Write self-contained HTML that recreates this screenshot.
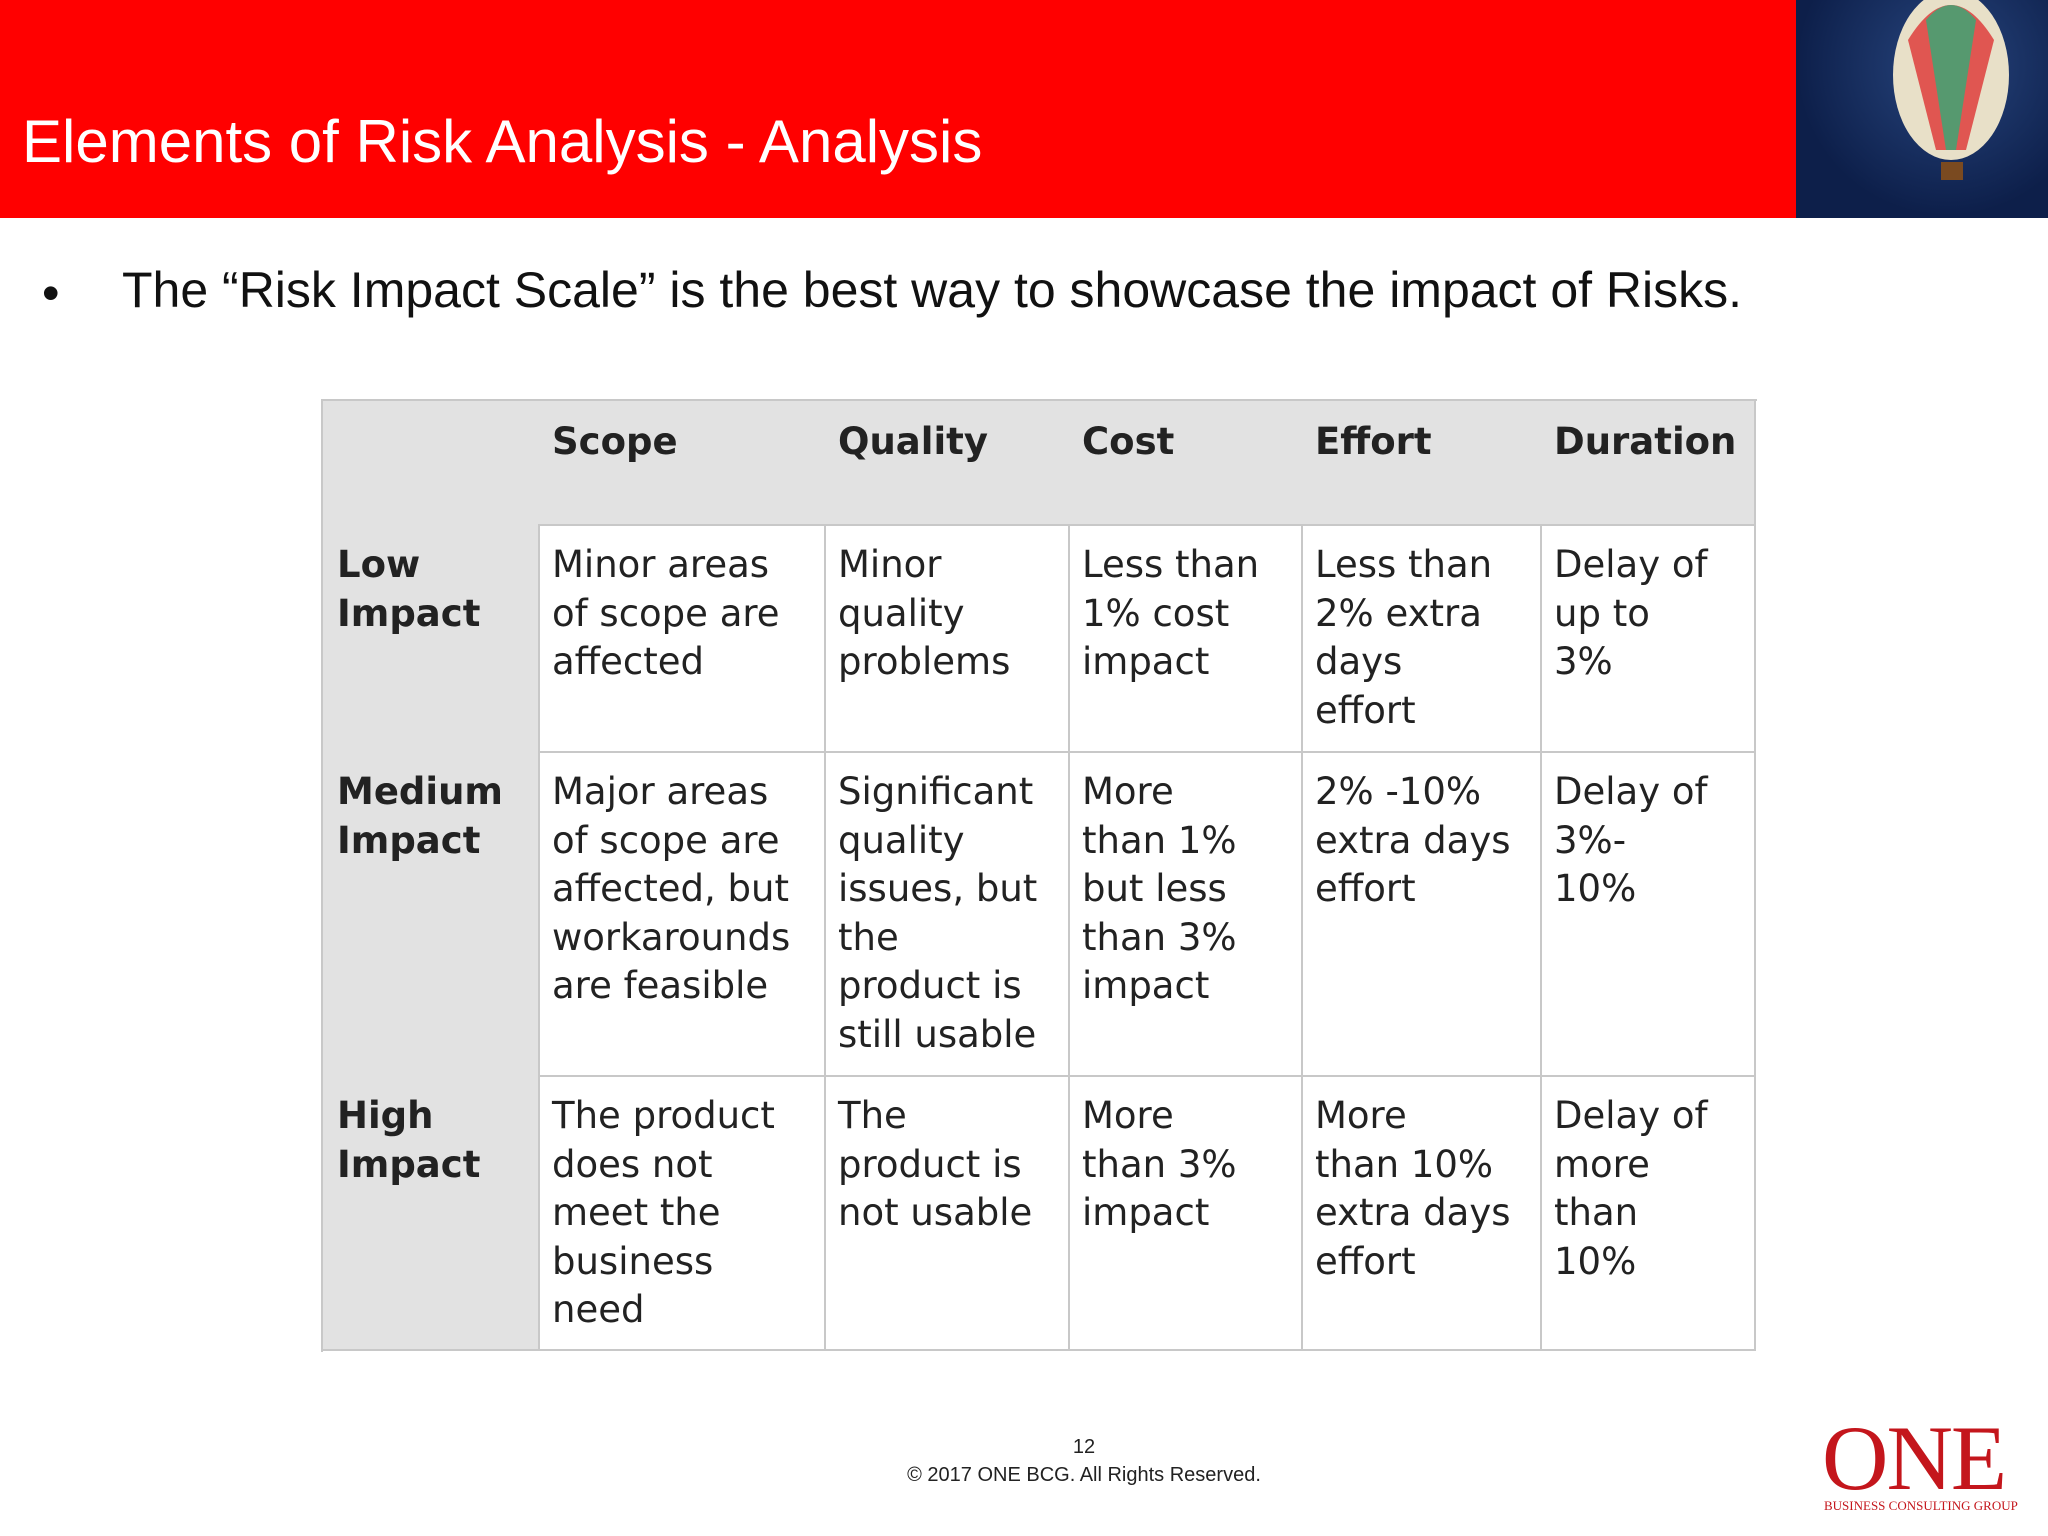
<!DOCTYPE html>
<html><head><meta charset="utf-8"><style>
body{margin:0;width:2048px;height:1536px;position:relative;background:#fff;font-family:"Liberation Sans",sans-serif;overflow:hidden}
.hdr{position:absolute;left:0;top:0;width:1796px;height:218px;background:#f00}
.title{position:absolute;left:22px;top:102px;color:#fff;font-size:60px;line-height:80px}
.balloon{position:absolute;left:1796px;top:0;width:252px;height:218px;background:radial-gradient(circle at 60% 30%,#27457e,#0d1f4a 70%)}
.bullet{position:absolute;left:42px;top:264px;font-size:50px;color:#111}
.btext{position:absolute;left:122px;top:261px;font-size:50px;color:#111}
.cell{position:absolute;box-sizing:border-box;border-right:2px solid #c8c8c8;border-bottom:2px solid #c8c8c8;padding:17px 14px;font-family:"DejaVu Sans",sans-serif;font-size:37px;line-height:48.5px;color:#222}
.g{background:#e2e2e2}
.b{font-weight:bold}
.foot{position:absolute;left:0;width:2168px;text-align:center;font-size:20px;color:#222}
</style></head><body>
<div class="hdr"><div class="title">Elements of Risk Analysis - Analysis</div></div>
<div class="balloon">
<svg width="252" height="218" viewBox="0 0 252 218">
<ellipse cx="155" cy="75" rx="58" ry="85" fill="#e8e0c8"/>
<path d="M112 40 Q155 -30 198 40 L170 150 L140 150Z" fill="#d33" opacity=".8"/>
<path d="M130 20 Q155 -10 180 20 L160 150 L150 150Z" fill="#3a7" opacity=".8"/>
<rect x="145" y="162" width="22" height="18" fill="#7a4a20"/>
</svg></div>
<div class="bullet">•</div>
<div class="btext">The “Risk Impact Scale” is the best way to showcase the impact of Risks.</div>
<div style="position:absolute;left:321px;top:399px;width:1434px;height:951px;border-top:2px solid #c8c8c8;border-left:2px solid #c8c8c8">
<div class="cell g" style="left:0;top:0;width:217px;height:125px"></div>
<div class="cell g b" style="left:215px;top:0;width:288px;height:125px">Scope</div>
<div class="cell g b" style="left:501px;top:0;width:246px;height:125px">Quality</div>
<div class="cell g b" style="left:745px;top:0;width:235px;height:125px">Cost</div>
<div class="cell g b" style="left:978px;top:0;width:241px;height:125px">Effort</div>
<div class="cell g b" style="left:1217px;top:0;width:216px;height:125px">Duration</div>

<div class="cell g b" style="left:0;top:123px;width:217px;height:229px">Low<br>Impact</div>
<div class="cell" style="left:215px;top:123px;width:288px;height:229px">Minor areas<br>of scope are affected</div>
<div class="cell" style="left:501px;top:123px;width:246px;height:229px">Minor<br>quality problems</div>
<div class="cell" style="left:745px;top:123px;width:235px;height:229px">Less than<br>1% cost impact</div>
<div class="cell" style="left:978px;top:123px;width:241px;height:229px">Less than<br>2% extra days<br>effort</div>
<div class="cell" style="left:1217px;top:123px;width:216px;height:229px">Delay of<br>up to<br>3%</div>

<div class="cell g b" style="left:0;top:350px;width:217px;height:326px">Medium<br>Impact</div>
<div class="cell" style="left:215px;top:350px;width:288px;height:326px">Major areas<br>of scope are affected, but workarounds are feasible</div>
<div class="cell" style="left:501px;top:350px;width:246px;height:326px">Significant quality issues, but the<br>product is still usable</div>
<div class="cell" style="left:745px;top:350px;width:235px;height:326px">More<br>than 1%<br>but less<br>than 3% impact</div>
<div class="cell" style="left:978px;top:350px;width:241px;height:326px">2% -10%<br>extra days effort</div>
<div class="cell" style="left:1217px;top:350px;width:216px;height:326px">Delay of 3%-<br>10%</div>

<div class="cell g b" style="left:0;top:674px;width:217px;height:276px">High<br>Impact</div>
<div class="cell" style="left:215px;top:674px;width:288px;height:276px">The product does not<br>meet the business need</div>
<div class="cell" style="left:501px;top:674px;width:246px;height:276px">The<br>product is not usable</div>
<div class="cell" style="left:745px;top:674px;width:235px;height:276px">More<br>than 3% impact</div>
<div class="cell" style="left:978px;top:674px;width:241px;height:276px">More<br>than 10% extra days effort</div>
<div class="cell" style="left:1217px;top:674px;width:216px;height:276px">Delay of<br>more<br>than<br>10%</div>
</div>
<div class="foot" style="top:1436px">12</div>
<div class="foot" style="top:1464px">© 2017 ONE BCG. All Rights Reserved.</div>
<div style="position:absolute;left:1822px;top:1408px;color:#c4161c;font-family:'Liberation Serif',serif;font-size:92px;line-height:100px;letter-spacing:-2px">ONE</div>
<div style="position:absolute;left:1824px;top:1498px;color:#c4161c;font-family:'Liberation Serif',serif;font-size:13px">BUSINESS CONSULTING GROUP</div>
</body></html>
